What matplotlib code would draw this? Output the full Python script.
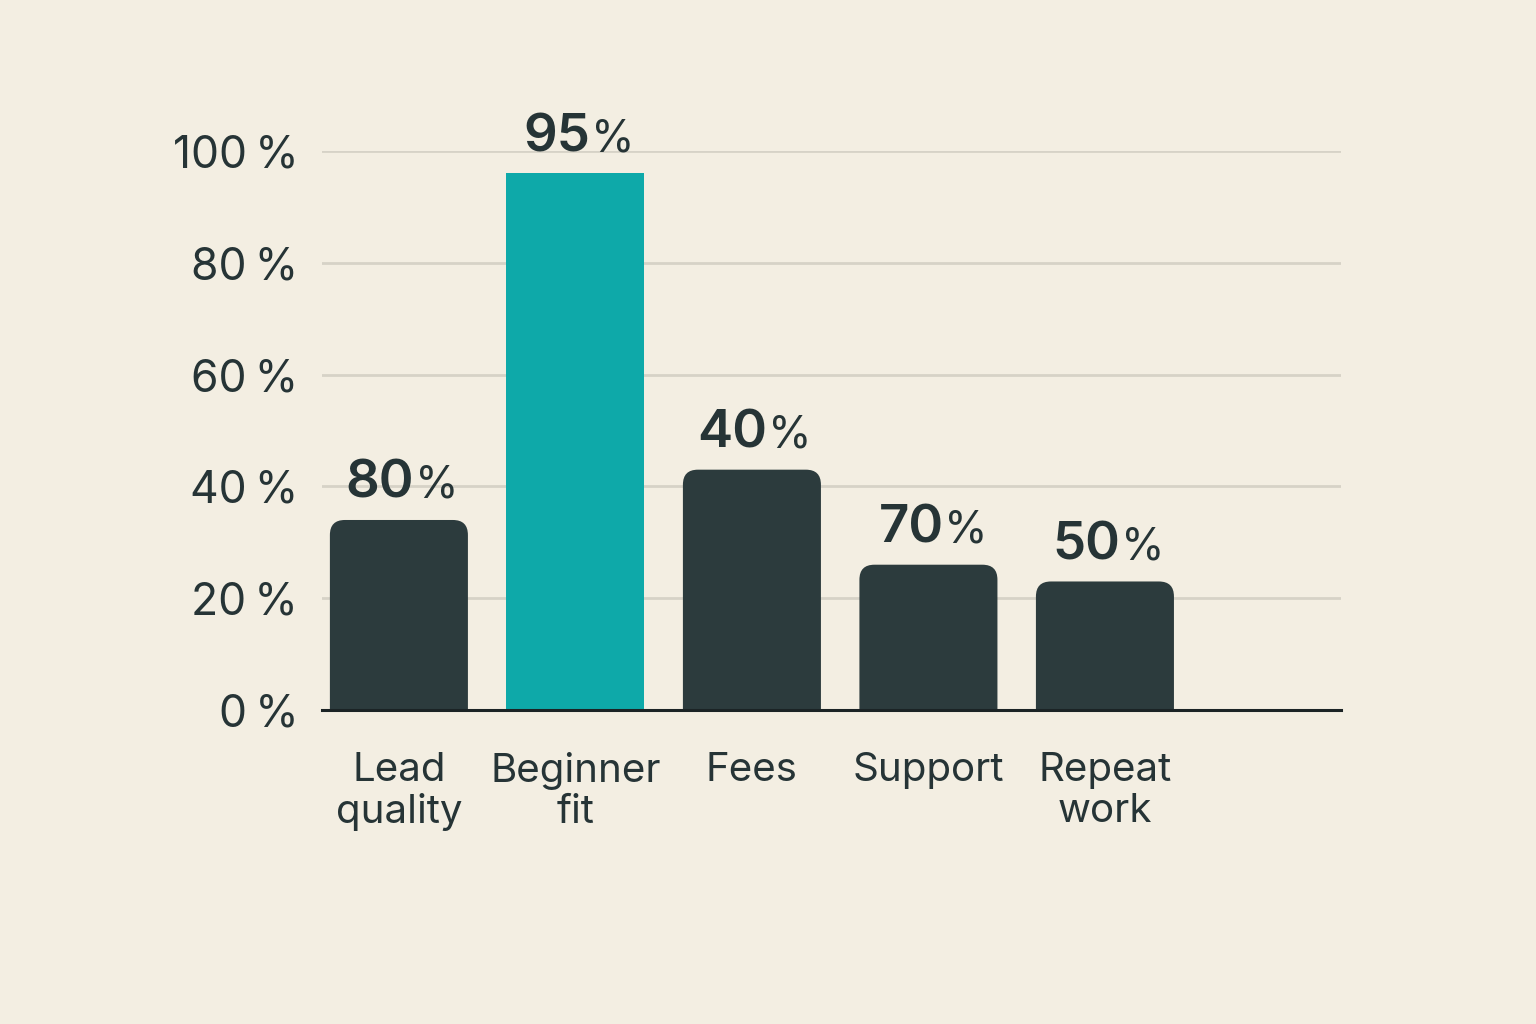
import matplotlib
matplotlib.use("Agg")
import matplotlib.pyplot as plt
from matplotlib.patches import FancyBboxPatch
import numpy as np

categories = ["Lead\nquality", "Beginner\nfit", "Fees", "Support", "Repeat\nwork"]
bar_heights = [34, 96, 43, 26, 23]
value_labels = ["80", "95", "40", "70", "50"]
highlight = [False, True, False, False, False]
y_ticks = [0, 20, 40, 60, 80, 100]
y_tick_labels = ["0\u2009%", "20\u2009%", "40\u2009%", "60\u2009%", "80\u2009%", "100\u2009%"]

BG = "#F3EEE2"
DARK = "#2C3B3D"
TEAL = "#0EA9A9"
TEXT = "#263436"
GRID = "#D6D2C7"

plt.rcParams['font.family'] = ['Inter', 'DejaVu Sans']

fig = plt.figure(figsize=(15.36, 10.24), dpi=100)
fig.patch.set_facecolor(BG)
ax = fig.add_axes([0.2096, 0.3066, 0.873 - 0.2096, 0.8525 - 0.3066])
ax.set_facecolor(BG)

x = np.arange(len(categories))
width = 0.782
ax.set_xlim(-0.436, 5.337)
ax.set_ylim(0, 100)

ax_w_px = (0.873 - 0.2096) * 1536
ax_h_px = (0.8525 - 0.3066) * 1024
x_per_px = (5.337 + 0.436) / ax_w_px
y_per_px = 100 / ax_h_px
aspect = y_per_px / x_per_px

for xi, h, hl in zip(x, bar_heights, highlight):
    if hl:
        ax.bar(xi, h, width=width, color=TEAL, zorder=3)
    else:
        r = 15 * x_per_px
        p = FancyBboxPatch((xi - width / 2, -5), width, h + 5,
                           boxstyle=f"round,pad=0,rounding_size={r}",
                           mutation_aspect=aspect, facecolor=DARK,
                           edgecolor="none", zorder=3)
        ax.add_patch(p)

for xi, h, lab in zip(x, bar_heights, value_labels):
    ax.annotate(lab, (xi, h), xytext=(11, 16), textcoords="offset points",
                ha="right", va="baseline", fontsize=38, fontweight="semibold",
                color=TEXT, zorder=5)
    ax.annotate("%", (xi, h), xytext=(11.5, 16), textcoords="offset points",
                ha="left", va="baseline", fontsize=32, fontweight="normal",
                color=TEXT, zorder=5)

ax.set_yticks(y_ticks)
ax.set_yticklabels(y_tick_labels, fontsize=32, color=TEXT)
ax.set_xticks(x)
ax.set_xticklabels(categories, fontsize=29, color=TEXT, linespacing=1.15)
ax.tick_params(axis="both", length=0)
ax.tick_params(axis="y", pad=17)
ax.tick_params(axis="x", pad=30)

ax.grid(axis="y", color=GRID, linewidth=2, zorder=0)
ax.set_axisbelow(True)
for s in ["top", "right", "left"]:
    ax.spines[s].set_visible(False)
ax.spines["bottom"].set_color("#1B2325")
ax.spines["bottom"].set_linewidth(2.2)
ax.spines["bottom"].set_zorder(4)

fig.savefig("out.png", dpi=100, facecolor=BG)
